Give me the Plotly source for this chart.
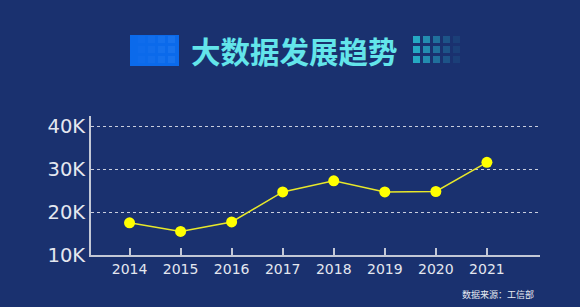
import plotly.graph_objects as go

years = [2014, 2015, 2016, 2017, 2018, 2019, 2020, 2021]
values = [17500, 15500, 17700, 24700, 27300, 24700, 24800, 31600]
y_ticks = [10000, 20000, 30000, 40000]
y_tick_labels = ["10K", "20K", "30K", "40K"]
title_text = "大数据发展趋势"
source_text = "数据来源：工信部"

bg = "#1a316f"
axis_col = "#c3c8d6"

fig = go.Figure()
fig.add_trace(go.Scatter(
    x=years, y=values, mode="lines+markers",
    line=dict(color="#e8e82a", width=1.5),
    marker=dict(color="#ffff00", size=11),
    showlegend=False,
))


def px_rect(x0, y0, x1, y1, color):
    return dict(type="rect", xref="paper", yref="paper", layer="above",
                x0=(x0 - 91) / 449, x1=(x1 - 91) / 449,
                y0=(255 - y1) / 139, y1=(255 - y0) / 139,
                fillcolor=color, line=dict(width=0))


shapes = [px_rect(130, 35, 179, 66, "#0b6aeb")]
col_alpha = [0.05, 0.09, 0.13, 0.17]
for r in range(3):
    for c in range(4):
        x0 = 138 + c * 10
        y0 = 36 + r * 10
        shapes.append(px_rect(x0, y0, x0 + 7, y0 + 7,
                              "rgba(90,160,255,%.2f)" % col_alpha[c]))
alphas = [0.85, 0.65, 0.45, 0.25, 0.1]
for r in range(3):
    for c in range(5):
        x0 = 413 + c * 10
        y0 = 36 + r * 10
        shapes.append(px_rect(x0, y0, x0 + 7, y0 + 7,
                              "rgba(40,190,210,%.2f)" % alphas[c]))

fig.update_layout(
    width=580, height=307,
    margin=dict(l=91, r=40, t=116, b=52),
    paper_bgcolor=bg, plot_bgcolor=bg,
    shapes=shapes,
    xaxis=dict(
        range=[2013.245, 2022.04], tickvals=years, ticktext=[str(y) for y in years],
        showgrid=False, zeroline=False, showline=True, linecolor=axis_col, linewidth=2,
        ticks="inside", ticklen=7, tickwidth=1.5, tickcolor=axis_col,
        tickfont=dict(family="DejaVu Sans", size=14, color="#e4e7ef"),
    ),
    yaxis=dict(
        range=[10000, 42400], tickvals=y_ticks, ticktext=y_tick_labels,
        showgrid=True, gridcolor="#c9cede", griddash="dot", gridwidth=1,
        zeroline=False, showline=True, linecolor=axis_col, linewidth=2,
        ticks="", tickfont=dict(family="DejaVu Sans", size=19.5, color="#e4e7ef"),
    ),
    annotations=[
        dict(text="<b>" + title_text + "</b>", xref="paper", yref="paper",
             x=(294 - 91) / 449, y=(255 - 50) / 139, xanchor="center", yanchor="middle",
             showarrow=False, font=dict(family="Noto Sans CJK SC", size=29.5, color="#63e5ea")),
        dict(text=source_text, xref="paper", yref="paper",
             x=(536 - 91) / 449, y=(255 - 294) / 139, xanchor="right", yanchor="middle",
             showarrow=False, font=dict(family="Noto Sans CJK SC", size=9, color="#e8ebf2")),
    ],
)

fig.write_html("out.html")
